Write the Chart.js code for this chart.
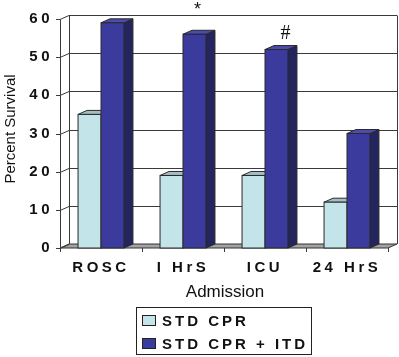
<!DOCTYPE html>
<html>
<head>
<meta charset="utf-8">
<script src="https://cdn.jsdelivr.net/npm/chart.js@4.4.1/dist/chart.umd.min.js"></script>
<style>
  html, body { margin: 0; padding: 0; background: #fff; }
  #wrap { width: 399px; height: 357px; position: relative; }
</style>
</head>
<body>
<div id="wrap"><canvas id="myChart" width="399" height="357"></canvas></div>
<script>
// ---------------- donnees du graphique ----------------
const categories = ['ROSC', 'I HrS', 'ICU', '24 HrS'];
const stdCpr = [35, 19, 19, 12];
const stdCprItd = [59, 56, 52, 30];
const yTicks = [0, 10, 20, 30, 40, 50, 60];
const seriesNames = ['STD CPR', 'STD CPR + ITD'];
const marks = ['', '*', '#', ''];   // annotations au dessus des barres ITD

// couleurs : face, dessus, cote
const lightCols = ['#c3e5ea', '#a3bfc3', '#8aa9ad'];
const darkCols = ['#3b3b9d', '#4b4bb0', '#24245f'];
const DX = 9, DY = -4;   // profondeur 3D

// --------------- plugin : murs, sol, grille --------------
const wallPlugin = {
    id: 'wall',
    beforeUpdate(chart) { chart.ctx.letterSpacing = '3.5px'; },
    beforeDraw(chart) { chart.ctx.letterSpacing = '3.5px'; },
    beforeDatasetsDraw(chart) {
        const ctx = chart.ctx;
        const a = chart.chartArea;
        const y = chart.scales.y;
        ctx.save();
        ctx.letterSpacing = '0px';
        // sol gris
        ctx.fillStyle = '#a3a3a3';
        ctx.strokeStyle = '#333';
        ctx.lineWidth = 1;
        ctx.beginPath();
        ctx.moveTo(a.left, a.bottom);
        ctx.lineTo(a.left + DX, a.bottom + DY);
        ctx.lineTo(a.right + DX, a.bottom + DY);
        ctx.lineTo(a.right, a.bottom);
        ctx.closePath();
        ctx.fill();
        ctx.stroke();
        // lignes de grille sur le mur du fond + mur gauche
        ctx.strokeStyle = '#3a3a3a';
        yTicks.forEach(v => {
            const py = Math.round(y.getPixelForValue(v)) + 0.5;
            ctx.beginPath();
            ctx.moveTo(a.left - 4, py);
            ctx.lineTo(a.left, py);
            ctx.lineTo(a.left + DX, py + DY);
            if (v > 0) ctx.lineTo(a.right + DX, py + DY);
            ctx.stroke();
        });
        // cadre
        const top = Math.round(y.getPixelForValue(60)) + 0.5;
        ctx.beginPath();
        ctx.moveTo(a.left + 0.5, a.bottom);
        ctx.lineTo(a.left + 0.5, top);
        ctx.moveTo(a.left + DX + 0.5, a.bottom + DY);
        ctx.lineTo(a.left + DX + 0.5, top + DY);
        ctx.moveTo(a.right + DX + 0.5, a.bottom + DY);
        ctx.lineTo(a.right + DX + 0.5, top + DY);
        ctx.stroke();
        // graduations de l'axe x
        const step = (a.right - a.left) / categories.length;
        for (let i = 0; i <= categories.length; i++) {
            const px = Math.round(a.left + i * step) + 0.5;
            ctx.beginPath();
            ctx.moveTo(px, a.bottom);
            ctx.lineTo(px, a.bottom + 4);
            ctx.stroke();
        }
        ctx.restore();
    },
    afterDatasetsDraw(chart) {
        const ctx = chart.ctx;
        ctx.save();
        ctx.lineWidth = 1;
        ctx.strokeStyle = '#2a2a2a';
        for (let i = 0; i < categories.length; i++) {
            [0, 1].forEach(d => {
                const bar = chart.getDatasetMeta(d).data[i];
                const cols = d === 0 ? lightCols : darkCols;
                const l = bar.x - bar.width / 2, r = bar.x + bar.width / 2;
                const t = bar.y, b = bar.base;
                // cote
                ctx.fillStyle = cols[2];
                ctx.beginPath();
                ctx.moveTo(r, b); ctx.lineTo(r + DX, b + DY);
                ctx.lineTo(r + DX, t + DY); ctx.lineTo(r, t);
                ctx.closePath(); ctx.fill(); ctx.stroke();
                // dessus
                ctx.fillStyle = cols[1];
                ctx.beginPath();
                ctx.moveTo(l, t); ctx.lineTo(l + DX, t + DY);
                ctx.lineTo(r + DX, t + DY); ctx.lineTo(r, t);
                ctx.closePath(); ctx.fill(); ctx.stroke();
                // face
                ctx.fillStyle = cols[0];
                ctx.fillRect(l, t, r - l, b - t);
                ctx.strokeRect(l, t, r - l, b - t);
            });
        }
        // annotations * et #
        ctx.fillStyle = '#111';
        ctx.textAlign = 'center';
        ctx.textBaseline = 'middle';
        ctx.letterSpacing = '0px';
        marks.forEach((m, i) => {
            if (!m) return;
            const bar = chart.getDatasetMeta(1).data[i];
            if (m === '*') {
                ctx.font = '18px "Liberation Sans"';
                ctx.fillText(m, bar.x + 3, 10);
            } else {
                ctx.font = '20px "Liberation Serif"';
                ctx.fillText(m, bar.x + 9, bar.y - 16);
            }
        });
        ctx.restore();
    },
    afterDraw(chart) {
        const ctx = chart.ctx;
        ctx.save();
        // titres des axes
        ctx.letterSpacing = '0px';
        ctx.fillStyle = '#111';
        ctx.textAlign = 'center';
        ctx.textBaseline = 'middle';
        ctx.font = '17px "Liberation Sans"';
        ctx.fillText('Admission', 225, 292);
        ctx.translate(11, 129);
        ctx.rotate(-Math.PI / 2);
        ctx.font = '15px "Liberation Sans"';
        ctx.fillText('Percent Survival', 0, 0);
        ctx.setTransform(1, 0, 0, 1, 0, 0);
        // legende
        ctx.strokeStyle = '#222';
        ctx.lineWidth = 1;
        ctx.strokeRect(136.5, 307.5, 175, 47);
        const rows = [321, 344];
        seriesNames.forEach((name, k) => {
            const cols = k === 0 ? lightCols : darkCols;
            ctx.fillStyle = cols[0];
            ctx.fillRect(142.5, rows[k] - 5.5, 13, 10);
            ctx.strokeRect(142.5, rows[k] - 5.5, 13, 10);
            ctx.fillStyle = '#111';
            ctx.textAlign = 'left';
            ctx.font = 'bold 15px "Liberation Sans"';
            ctx.letterSpacing = '3px';
            ctx.fillText(name, 162, rows[k] + 1);
        });
        ctx.restore();
    }
};

const ctx = document.getElementById('myChart').getContext('2d');
const myChart = new Chart(ctx, {
    type: 'bar',
    data: {
        labels: categories,
        datasets: [{
            label: seriesNames[0],
            data: stdCpr,
            backgroundColor: lightCols[0],
            borderWidth: 0
        }, {
            label: seriesNames[1],
            data: stdCprItd,
            backgroundColor: darkCols[0],
            borderWidth: 0
        }]
    },
    options: {
        responsive: false,
        animation: false,
        layout: { padding: { top: 19, right: 11, left: 0, bottom: 0 } },
        categoryPercentage: 0.56,
        barPercentage: 1,
        plugins: {
            legend: { display: false },
            tooltip: { enabled: false }
        },
        scales: {
            x: {
                grid: { display: false, drawTicks: false },
                border: { display: false },
                ticks: {
                    color: '#111',
                    padding: 11,
                    font: { family: '"Liberation Sans"', size: 15, weight: 'bold' }
                },
                afterFit(scale) { scale.height = 109; }
            },
            y: {
                min: 0,
                max: 60,
                grid: { display: false, drawTicks: false },
                border: { display: false },
                ticks: {
                    stepSize: 10,
                    color: '#111',
                    padding: 7,
                    font: { family: '"Liberation Sans"', size: 15, weight: 'bold' }
                },
                afterFit(scale) { scale.width = 60; }
            }
        }
    },
    plugins: [wallPlugin]
});
</script>
</body>
</html>
